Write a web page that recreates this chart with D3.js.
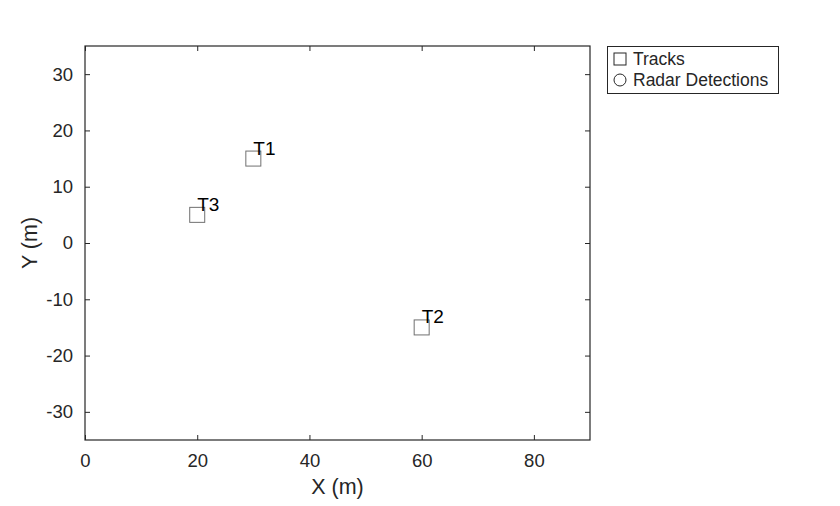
<!DOCTYPE html>
<html>
<head>
<meta charset="utf-8">
<script src="https://d3js.org/d3.v7.min.js"></script>
<style>
  body { margin: 0; background: white; }
  text { font-family: "Liberation Sans", Arial, sans-serif; fill: #262626; }
</style>
</head>
<body>
<svg width="840" height="506"></svg>
<script>
  // track data
  var trackNames = ["T1", "T2", "T3"];
  var trackX = [30, 60, 20];
  var trackY = [15, -15, 5];
  var xTicks = [0, 20, 40, 60, 80];
  var yTicks = [-30, -20, -10, 0, 10, 20, 30];
  var legendLabels = ["Tracks", "Radar Detections"];

  var svg = d3.select("svg");
  var pLeft = 85, pRight = 590, pTop = 46, pBottom = 440;

  var xs = d3.scaleLinear().domain([0, 90]).range([pLeft, pRight]);
  var ys = d3.scaleLinear().domain([-35, 35]).range([pBottom, pTop]);
  var fmt = d => String(d);

  // axes with inward ticks
  svg.append("g").attr("transform", "translate(0," + pBottom + ")")
    .call(d3.axisBottom(xs).tickValues(xTicks).tickFormat(fmt).tickSizeInner(-5).tickSizeOuter(0).tickPadding(14))
    .call(g => g.select(".domain").remove())
    .selectAll("text").style("font-size", "18.5px");
  svg.append("g").attr("transform", "translate(0," + pTop + ")")
    .call(d3.axisTop(xs).tickValues(xTicks).tickSizeInner(-5).tickSizeOuter(0).tickFormat(""))
    .call(g => g.select(".domain").remove());
  svg.append("g").attr("transform", "translate(" + pLeft + ",0)")
    .call(d3.axisLeft(ys).tickValues(yTicks).tickFormat(fmt).tickSizeInner(-5).tickSizeOuter(0).tickPadding(12))
    .call(g => g.select(".domain").remove())
    .selectAll("text").style("font-size", "18.5px");
  svg.append("g").attr("transform", "translate(" + pRight + ",0)")
    .call(d3.axisRight(ys).tickValues(yTicks).tickSizeInner(-5).tickSizeOuter(0).tickFormat(""))
    .call(g => g.select(".domain").remove());
  svg.selectAll(".tick line").attr("stroke", "#262626");
  svg.selectAll(".tick text").style("fill", "#262626");

  svg.append("rect")
    .attr("x", pLeft).attr("y", pTop)
    .attr("width", pRight - pLeft).attr("height", pBottom - pTop)
    .attr("fill", "none").attr("stroke", "#262626").attr("stroke-width", 1.2);

  // axis labels
  svg.append("text")
    .attr("x", (pLeft + pRight) / 2).attr("y", 494)
    .attr("text-anchor", "middle").style("font-size", "21.5px")
    .text("X (m)");
  svg.append("text")
    .attr("transform", "translate(37," + ys(0) + ") rotate(-90)")
    .attr("text-anchor", "middle").style("font-size", "21.5px")
    .text("Y (m)");

  // tracks
  var tracks = svg.append("g").selectAll("g").data(trackNames).enter().append("g");
  tracks.append("rect")
    .attr("x", (d, i) => xs(trackX[i]) - 7.5)
    .attr("y", (d, i) => ys(trackY[i]) - 7.5)
    .attr("width", 15).attr("height", 15)
    .attr("fill", "none").attr("stroke", "#707070").attr("stroke-width", 1);
  tracks.append("text")
    .attr("x", (d, i) => xs(trackX[i]))
    .attr("y", (d, i) => ys(trackY[i]) - 4)
    .style("font-size", "19px").style("fill", "#000")
    .text(d => d);

  // legend
  var lg = svg.append("g");
  lg.append("rect")
    .attr("x", 607.5).attr("y", 46.5).attr("width", 171).attr("height", 47)
    .attr("fill", "white").attr("stroke", "#262626");
  lg.append("rect")
    .attr("x", 614).attr("y", 53).attr("width", 12).attr("height", 12)
    .attr("fill", "none").attr("stroke", "#262626");
  lg.append("circle")
    .attr("cx", 620).attr("cy", 80).attr("r", 6)
    .attr("fill", "none").attr("stroke", "#262626");
  lg.selectAll("text.lbl").data(legendLabels).enter().append("text")
    .attr("class", "lbl")
    .attr("x", 633).attr("y", (d, i) => 65 + i * 21)
    .style("font-size", "17.5px")
    .text(d => d);
</script>
</body>
</html>
